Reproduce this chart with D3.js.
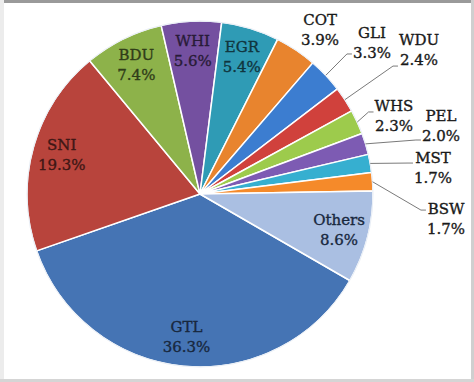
<!DOCTYPE html>
<html>
<head>
<meta charset="utf-8">
<script src="https://cdn.jsdelivr.net/npm/d3@7"></script>
<style>
  html, body { margin: 0; padding: 0; background: #ffffff; }
  svg { display: block; }
</style>
</head>
<body>
<svg id="chart" width="474" height="382"></svg>
<script>
// ---- data ----
const categories = ["GTL", "SNI", "BDU", "WHI", "EGR", "COT", "GLI", "WDU", "WHS", "PEL", "MST", "BSW", "Others"];
const shares     = [36.3, 19.3, 7.4, 5.6, 5.4, 3.9, 3.3, 2.4, 2.3, 2.0, 1.7, 1.7, 8.6];
const shareLabels = ["36.3%", "19.3%", "7.4%", "5.6%", "5.4%", "3.9%", "3.3%", "2.4%", "2.3%", "2.0%", "1.7%", "1.7%", "8.6%"];

// ---- styles ----
const colors = ["#4574B4", "#B8443C", "#8DB24A", "#7450A0", "#2F9BB5", "#E8842E",
                "#3C7DD0", "#D0413C", "#9DCB4C", "#7D5BB3", "#36AFD0", "#F58A2A", "#AABFE2"];

// ---- layout ----
const W = 474, H = 382;
const cx = 200, cy = 194, R = 173;
const startDeg = 120;
const fontFamily = "'DejaVu Serif', 'Liberation Serif', serif";
const fontSize = 15;
const lineGap = 20;
// outside label placement (label block centre, in pie-radius units from the centre) and
// leader attachment (vertical offset from block centre, px); null leader = no leader line
const outsideLayout = {
  COT: { x: 0.694, y: -0.948, leader: null },
  GLI: { x: 0.994, y: -0.873, leader: 11 },
  WDU: { x: 1.266, y: -0.832, leader: 16 },
  WHS: { x: 1.121, y: -0.451, leader: -4 },
  PEL: { x: 1.393, y: -0.393, leader: 14 },
  MST: { x: 1.347, y: -0.150, leader: -5 },
  BSW: { x: 1.422, y: 0.145, leader: -9 }
};
const insideRadius = 0.83;

const svg = d3.select("#chart");

// frame
svg.append("rect").attr("x", 0.5).attr("y", 0.5).attr("width", W - 1).attr("height", H - 1)
  .attr("fill", "#ffffff").attr("stroke", "#d0d0d0").attr("stroke-width", 1);
svg.append("rect").attr("x", 0).attr("y", 0).attr("width", W).attr("height", 3).attr("fill", "#9a9a9a");
svg.append("rect").attr("x", 0).attr("y", 0).attr("width", 4).attr("height", H).attr("fill", "#ececec");
svg.append("rect").attr("x", W - 3).attr("y", 0).attr("width", 3).attr("height", H).attr("fill", "#cfcfcf");
svg.append("rect").attr("x", 0).attr("y", H - 3).attr("width", W).attr("height", 3).attr("fill", "#d5d5d5");

const data = categories.map((c, i) => ({ name: c, value: shares[i], label: shareLabels[i], color: colors[i] }));

const toRad = d => d * Math.PI / 180;
const pie = d3.pie().sort(null).value(d => d.value)
  .startAngle(toRad(startDeg)).endAngle(toRad(startDeg + 360));
const arcs = pie(data);

const arc = d3.arc().innerRadius(0).outerRadius(R);

const g = svg.append("g").attr("transform", `translate(${cx},${cy})`);

g.selectAll("path.slice").data(arcs).join("path")
  .attr("class", "slice")
  .attr("d", arc)
  .attr("fill", d => d.data.color)
  .attr("stroke", "#ffffff")
  .attr("stroke-width", 1.5)
  .attr("stroke-linejoin", "round");

// outer thin light outline
g.append("circle").attr("r", R).attr("fill", "none").attr("stroke", "#e8eef6").attr("stroke-width", 1);

function polar(angle, r) {
  return [Math.sin(angle) * r, -Math.cos(angle) * r];
}

function labelBlock(sel, x, y, d, color) {
  const t = sel.append("text")
    .attr("font-family", fontFamily)
    .attr("font-size", fontSize)
    .attr("fill", color)
    .attr("stroke", color)
    .attr("stroke-width", 0.35)
    .attr("text-anchor", "middle");
  t.append("tspan").attr("x", x).attr("y", y - lineGap / 2).attr("dominant-baseline", "central").text(d.data.name);
  t.append("tspan").attr("x", x).attr("y", y + lineGap / 2).attr("dominant-baseline", "central").text(d.data.label);
  return t;
}

arcs.forEach(d => {
  const mid = (d.startAngle + d.endAngle) / 2;
  const lay = outsideLayout[d.data.name];
  if (!lay) {
    const [x, y] = polar(mid, R * insideRadius);
    const base = d3.color(d.data.name === "Others" ? colors[0] : d.data.color);
    labelBlock(g, x, y, d, base.darker(3).formatHex());
  } else {
    const x = lay.x * R, y = lay.y * R;
    const t = labelBlock(g, x, y, d, "#1a1a1a");
    if (lay.leader !== null) {
      const w = t.node().getBBox().width;
      const left = x - w / 2 - 1;
      const ay = y + lay.leader;
      const p0 = polar(mid, R);
      const pts = [p0, [left - 5, ay], [left, ay]];
      g.append("path")
        .attr("d", d3.line()(pts))
        .attr("fill", "none")
        .attr("stroke", "#7a7a7a")
        .attr("stroke-width", 1);
    }
  }
});
</script>
</body>
</html>
